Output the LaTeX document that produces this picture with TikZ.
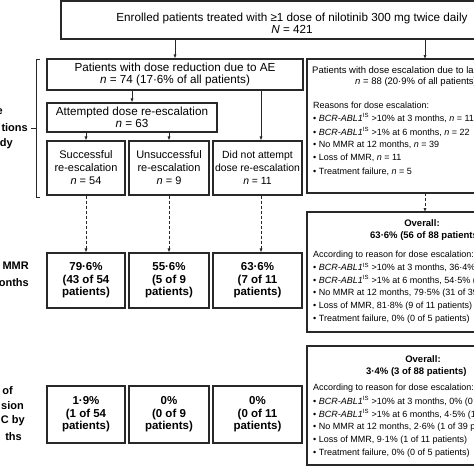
\documentclass[tikz,border=0pt]{standalone}
\usepackage{fontspec}
\setmainfont{Liberation Sans}
\usetikzlibrary{arrows.meta}
\definecolor{boxline}{RGB}{40,40,40}
\newcommand{\bcrabl}{\textit{BCR-ABL1}\textsuperscript{IS}}

\begin{document}
\begin{tikzpicture}[x=1pt, y=-1pt,
  box/.style={draw=boxline, line width=1.1pt, inner sep=0pt, align=center,
    font=\fontsize{11.7}{12}\selectfont},
  small/.style={box, font=\fontsize{11}{13}\selectfont},
  res/.style={box, font=\fontsize{11.5}{12.5}\selectfont\bfseries},
  arr/.style={-{Latex[length=4pt,width=3.2pt]}, line width=0.8pt, boxline},
  darr/.style={arr, dash pattern=on 3pt off 2pt},
  txt/.style={anchor=west, inner sep=0pt, font=\fontsize{9}{11}\selectfont},
  hdr/.style={inner sep=0pt, font=\fontsize{9.5}{12}\selectfont\bfseries},
  lbl/.style={anchor=east, inner sep=0pt, font=\fontsize{11}{13}\selectfont\bfseries}]
  \useasboundingbox (0,0) rectangle (474,474);
  \clip (0,0) rectangle (474,474);
  % enrolment
  \node[box, minimum width=462pt, minimum height=38pt] (enrol) at (292,20) {};
  \node[inner sep=0pt, align=center, font=\fontsize{11.7}{12}\selectfont] (enrolT) at (292,23)
    {Enrolled patients treated with ≥1 dose of nilotinib 300 mg twice daily\\\textit{N} = 421};
  % dose reduction branch
  \node[box, minimum width=256pt, minimum height=31pt] (reduc) at (175,74.5)
    {Patients with dose reduction due to AE\\\textit{n} = 74 (17·6\% of all patients)};
  \node[box, minimum width=170pt, minimum height=29pt] (attempt) at (132,117.5)
    {Attempted dose re-escalation\\\textit{n} = 63};
  \node[small, minimum width=78pt, minimum height=54pt] (succ) at (86,168)
    {Successful\\re-escalation\\\textit{n} = 54};
  \node[small, minimum width=80pt, minimum height=54pt] (unsucc) at (169,168)
    {Unsuccessful\\re-escalation\\\textit{n} = 9};
  \node[small, minimum width=89pt, minimum height=54pt, font=\fontsize{10.4}{13}\selectfont] (noatt) at (257.5,168)
    {Did not attempt\\dose re-escalation\\\textit{n} = 11};
  % dose escalation branch
  \node[box, minimum width=214pt, minimum height=134pt] (esc) at (414,126) {};
  \node[txt, font=\fontsize{9.5}{11}\selectfont] (escA) at (312,70) {Patients with dose escalation due to lac};
  \node[txt, font=\fontsize{9.5}{11}\selectfont] (escB) at (355,82) {\textit{n} = 88 (20·9\% of all patients)};
  \node[txt] (escC) at (313,105) {Reasons for dose escalation:};
  \foreach \t [count=\i] in {{\bcrabl{} >10\% at 3 months, \textit{n} = 11},
      {\bcrabl{} >1\% at 6 months, \textit{n} = 22},
      {No MMR at 12 months, \textit{n} = 39},
      {Loss of MMR, \textit{n} = 11},
      {Treatment failure, \textit{n} = 5}}
    \node[txt] (escR\i) at (313,{105+13.3*\i}) {• \t};
  \coordinate (escin) at (425,59);
  \coordinate (escout) at (425,193);
  % MMR by 12 months
  \node[res, minimum width=78pt, minimum height=55pt] (mmrA) at (86,280.5) {79·6\%\\(43 of 54\\patients)};
  \node[res, minimum width=80pt, minimum height=55pt] (mmrB) at (169,280.5) {55·6\%\\(5 of 9\\patients)};
  \node[res, minimum width=89pt, minimum height=55pt] (mmrC) at (257.5,280.5) {63·6\%\\(7 of 11\\patients)};
  \node[box, minimum width=214pt, minimum height=120pt] (mmrR) at (414,272) {};
  \node[hdr] (mmrO) at (422,223) {Overall:};
  \node[hdr, anchor=west] (mmrP) at (370,236) {63·6\% (56 of 88 patients};
  \node[txt] (mmrQ) at (313,255) {According to reason for dose escalation:};
  \foreach \t [count=\i] in {{\bcrabl{} >10\% at 3 months, 36·4\% (4 of},
      {\bcrabl{} >1\% at 6 months, 54·5\% (12 of},
      {No MMR at 12 months, 79·5\% (31 of 39 pa},
      {Loss of MMR, 81·8\% (9 of 11 patients)},
      {Treatment failure, 0\% (0 of 5 patients)}}
    \node[txt] (mmrR\i) at (313,{255+12.8*\i}) {• \t};
  \coordinate (mmrin) at (425,212);
  % progression by 12 months
  \node[res, minimum width=78pt, minimum height=57pt] (progA) at (86,414.5) {1·9\%\\(1 of 54\\patients)};
  \node[res, minimum width=80pt, minimum height=57pt] (progB) at (169,414.5) {0\%\\(0 of 9\\patients)};
  \node[res, minimum width=89pt, minimum height=57pt] (progC) at (257.5,414.5) {0\%\\(0 of 11\\patients)};
  \node[box, minimum width=214pt, minimum height=119pt] (progR) at (414,405.5) {};
  \node[hdr] (progO) at (423,359) {Overall:};
  \node[hdr, anchor=west] (progP) at (366,372) {3·4\% (3 of 88 patients)};
  \node[txt] (progQ) at (313,388) {According to reason for dose escalation:};
  \foreach \t [count=\i] in {{\bcrabl{} >10\% at 3 months, 0\% (0 of},
      {\bcrabl{} >1\% at 6 months, 4·5\% (1 o},
      {No MMR at 12 months, 2·6\% (1 of 39 pat},
      {Loss of MMR, 9·1\% (1 of 11 patients)},
      {Treatment failure, 0\% (0 of 5 patients)}}
    \node[txt] (progR\i) at (313,{388+13*\i}) {• \t};
  % row labels (cut at the left edge)
  \node[lbl] (dmA) at (3,112) {e};
  \node[lbl] (dmB) at (28,128) {tions};
  \node[lbl] (dmC) at (13,144) {dy};
  \node[lbl] (mmA) at (29,266) {MMR};
  \node[lbl] (mmB) at (29,283) {onths};
  \node[lbl] (pgA) at (13,391) {of};
  \node[lbl] (pgB) at (24,406) {sion};
  \node[lbl] (pgC) at (25,421) {C by};
  \node[lbl] (pgD) at (22,437) {ths};
  % bracket
  \draw[boxline, line width=0.8pt] (40,59) -- (36,59) -- (36,197) -- (40,197);
  \draw[boxline, line width=0.8pt] (36,128) -- (31,128);
  % arrows
  \draw[arr] (enrol.south -| reduc.north) -- (reduc.north);
  \draw[arr] (enrol.south -| escin) -- (escin);
  \draw[arr] (reduc.south -| attempt.north) -- (attempt.north);
  \draw[arr] ([xshift=3.5pt]reduc.south -| noatt.north) -- ([xshift=3.5pt]noatt.north);
  \draw[arr] (attempt.south -| succ.north) -- (succ.north);
  \draw[arr] (attempt.south -| unsucc.north) -- (unsucc.north);
  \draw[darr] (succ.south) -- (mmrA.north);
  \draw[darr] (unsucc.south) -- (mmrB.north);
  \draw[darr] ([xshift=3.5pt]noatt.south) -- ([xshift=3.5pt]mmrC.north);
  \draw[darr] (escout) -- (mmrin);
\end{tikzpicture}
\end{document}
